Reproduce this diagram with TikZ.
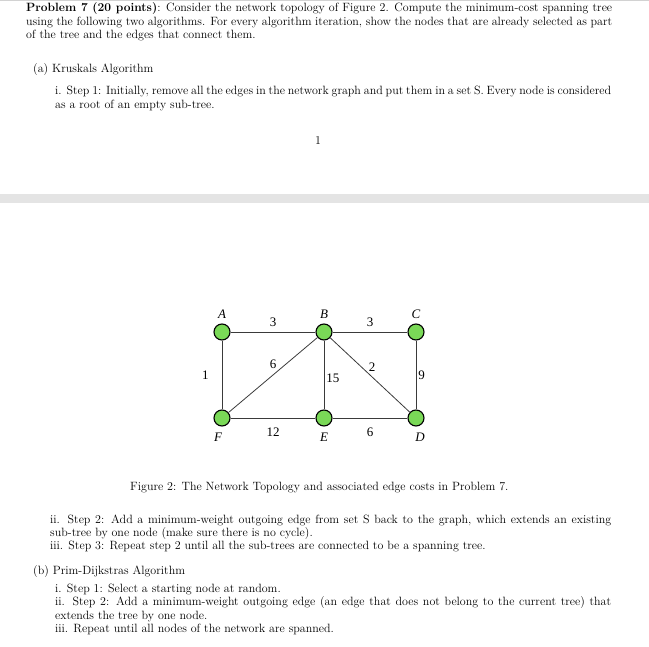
\documentclass[tikz,border=0pt]{standalone}
\usepackage{fontspec}
\newfontfamily\figfont{Liberation Serif}
\usetikzlibrary{positioning}
\definecolor{vertexgreen}{HTML}{7AD957}
\definecolor{edgegray}{HTML}{3A3A3A}
\definecolor{bandgray}{HTML}{E4E4E4}
\definecolor{rulegray}{HTML}{D2D2D2}

\begin{document}
\begin{tikzpicture}[x=1pt, y=-1pt,
    para/.style={anchor=base west, inner sep=0pt, align=justify, font=\fontsize{12}{13.5}\selectfont},
    plain/.style={anchor=base west, inner sep=0pt, font=\fontsize{12}{13.5}\selectfont},
    vertex/.style={circle, draw, line width=1.1pt, fill=vertexgreen, minimum size=16pt, inner sep=0pt},
    vlabel/.style={font=\figfont\itshape\fontsize{13}{13}\selectfont, inner sep=1pt},
    cost/.style={font=\figfont\fontsize{13}{13}\selectfont, inner sep=2pt},
    link/.style={draw=edgegray, line width=0.8pt}]
  \useasboundingbox (0,0) rectangle (649,647);
  % page edges of the screenshot
  \fill[rulegray] (0,0) rectangle (649,1.5);
  \fill[bandgray] (0,194) rectangle (649,203);

  % problem statement
  \node[para, text width=586pt] (intro) at (26,12) {\textbf{Problem 7 (20 points)}: Consider the network topology of Figure 2. Compute the minimum-cost spanning tree\linebreak using the following two algorithms. For every algorithm iteration, show the nodes that are already selected as part\linebreak of the tree and the edges that connect them.};
  \node[plain] (parta) at (33,73) {(a)\ Kruskals Algorithm};
  \node[para, text width=556pt] (stepa1) at (55,95) {i. Step 1: Initially, remove all the edges in the network graph and put them in a set S. Every node is considered\linebreak as a root of an empty sub-tree.};
  \node[plain] (pageno) at (315,145) {1};

  % the network
  \node[vertex] (A) at (222,332) {};
  \node[vertex] (B) at (324,332) {};
  \node[vertex] (C) at (416,332) {};
  \node[vertex] (F) at (222,418) {};
  \node[vertex] (E) at (324,418) {};
  \node[vertex] (D) at (416,418) {};
  \node[vlabel, above=4pt of A] (lA) {A};
  \node[vlabel, above=4pt of B] (lB) {B};
  \node[vlabel, above=4pt of C] (lC) {C};
  \node[vlabel, below=5pt of F, xshift=-4pt] (lF) {F};
  \node[vlabel, below=5pt of E] (lE) {E};
  \node[vlabel, below=5pt of D, xshift=4pt] (lD) {D};

  \draw[link] (A) -- node[cost, above=3pt] (cAB) {3} (B);
  \draw[link] (B) -- node[cost, above=3pt] (cBC) {3} (C);
  \draw[link] (A) -- node[cost, left=11pt] (cAF) {1} (F);
  \draw[link] (F) -- node[cost, above=4pt] (cFB) {6} (B);
  \draw[link] (B) -- node[cost, right=0pt, pos=0.55] (cBE) {15} (E);
  \draw[link] (B) -- node[cost, above=1pt, xshift=2pt] (cBD) {2} (D);
  \draw[link] (C) -- node[cost, right=0pt] (cCD) {9} (D);
  \draw[link] (F) -- node[cost, below=7pt] (cFE) {12} (E);
  \draw[link] (E) -- node[cost, below=7pt] (cED) {6} (D);

  \node[plain] (caption) at (130,490) {Figure 2: The Network Topology and associated edge costs in Problem 7.};

  \node[para, text width=561pt] (stepa2) at (50,523) {ii. Step 2: Add a minimum-weight outgoing edge from set S back to the graph, which extends an existing\linebreak sub-tree by one node (make sure there is no cycle).\par iii. Step 3: Repeat step 2 until all the sub-trees are connected to be a spanning tree.};
  \node[plain] (partb) at (33,574) {(b)\ Prim-Dijkstras Algorithm};
  \node[para, text width=556pt] (stepb) at (55,592) {i. Step 1: Select a starting node at random.\par ii. Step 2: Add a minimum-weight outgoing edge (an edge that does not belong to the current tree) that\linebreak extends the tree by one node.\par iii. Repeat until all nodes of the network are spanned.};
\end{tikzpicture}
\end{document}
